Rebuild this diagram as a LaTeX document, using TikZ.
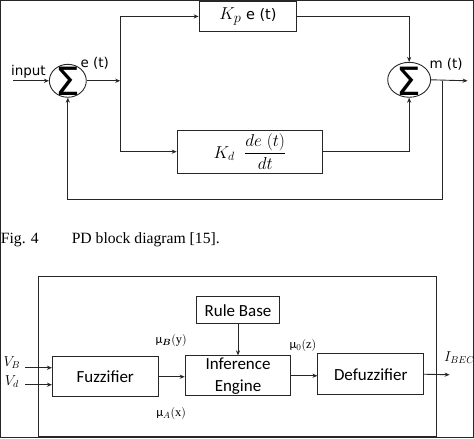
\documentclass[tikz,border=0pt]{standalone}
\usepackage{fontspec}
\usepackage{amsmath}
\setmainfont{Liberation Serif}
\newfontfamily\carl{Carlito}
\newfontfamily\dvs{DejaVu Sans}
\usetikzlibrary{arrows.meta,shapes.geometric}
\begin{document}
\begin{tikzpicture}[x=1pt,y=-1pt,line width=0.9pt,
  every path/.style={draw=black!85},
  arr/.style={-{Stealth[length=5pt,width=4.2pt]}},
  blk/.style={draw=black!85,rectangle,inner sep=0pt},
  sumc/.style={draw=black!85,ellipse,inner sep=0pt},
  sig/.style={inner sep=0pt,font=\dvs\fontsize{39}{40}\selectfont},
  lab/.style={inner sep=0pt,font=\dvs\fontsize{13.5}{15}\selectfont},
  bt/.style={font=\carl\fontsize{17}{19}\selectfont,align=center},
  mu/.style={inner sep=0pt,font=\carl\fontsize{12.5}{14}\selectfont},
  mth/.style={inner sep=0pt,font=\fontsize{14.5}{16}\selectfont},
  captxt/.style={inner sep=0pt,anchor=base west,font=\fontsize{15.7}{18}\selectfont}]
\useasboundingbox (0,0) rectangle (474,438);
% ---------- top PD diagram ----------
\node[sumc,minimum width=37pt,minimum height=33pt] (s1) at (67.5,80.5) {};
\node[sig] (s1t) at (67,81) {Σ};
\node[sumc,minimum width=43pt,minimum height=35pt] (s2) at (409.5,79.5) {};
\node[sig] (s2t) at (409,81) {Σ};
\node[blk,minimum width=98pt,minimum height=30pt] (kp) at (248,16)
  {\fontsize{19}{20}\selectfont$K_p$\ {\dvs\fontsize{14.5}{15}\selectfont e (t)}};
\node[blk,minimum width=146pt,minimum height=43pt] (kd) at (250,151.5)
  {\fontsize{17.5}{18}\selectfont$K_d\;\;\dfrac{de\;(t)}{dt}$};
\node[lab] (inp) at (28,71) {input};
\node[lab] (et) at (94.5,63) {e (t)};
\node[lab] (mt) at (446.5,64) {m (t)};
\coordinate (in0) at (13,80.5);
\coordinate (j) at (120,80.5);
\coordinate (f) at (443,80.5);
\coordinate (out) at (468,80.5);
\coordinate (fbr) at (443,199);
\draw[arr] (in0) -- (s1.west);
\draw[arr] (s1.east) -- (j);
\draw[arr] (j) |- (kp.west);
\draw[arr] (j) |- (kd.west);
\draw[arr] (kp.east) -| (s2.north);
\draw[arr] (kd.east) -| (s2.south);
\draw[arr] (s2.east) -- (out);
\draw[arr] (f) -- (fbr) -| (s1.south);
% caption
\node[captxt] (fig) at (0,243.5) {Fig. 4};
\node[captxt] (figt) at (71,243.5) {PD block diagram [15].};
% ---------- bottom fuzzy diagram ----------
\node[blk,minimum width=399pt,minimum height=160pt,line width=1.1pt] (frame) at (237.5,357) {};
\node[blk,bt,minimum width=84pt,minimum height=27pt] (rb) at (238,310.5) {Rule Base};
\node[blk,bt,minimum width=106pt,minimum height=40pt] (fz) at (105,377) {Fuzzifier};
\node[blk,bt,minimum width=106pt,minimum height=40pt] (ie) at (238,376)
  {\fontsize{17}{19}\selectfont Inference\\[3pt]Engine};
\node[blk,bt,minimum width=106pt,minimum height=41pt] (df) at (371,374.5) {Defuzzifier};
\coordinate (vb) at (25,368);
\coordinate (vd) at (25,385);
\coordinate (ib) at (450,375);
\draw[arr] (vb) -- (vb -| fz.west);
\draw[arr] (vd) -- (vd -| fz.west);
\draw[arr] (rb.south) -- (ie.north);
\draw[arr] (fz.east) -- (fz.east -| ie.west);
\draw[arr] (ie.east) -- (ie.east -| df.west);
\draw[arr] (df.east) -- (ib);
\node[mth] (vbl) at (11.5,363) {$V_B$};
\node[mth] (vdl) at (11.5,382) {$V_d$};
\node[mth,anchor=west] (ibl) at (444,357.5) {$I_{BEC}$};
\node[mu] (mub) at (171,341) {μ$_{\boldsymbol{B}}\mathrm{(y)}$};
\node[mu] (mua) at (171,414) {μ$_{A}\mathrm{(x)}$};
\node[mu] (muo) at (303,345.5) {μ$_{0}\mathrm{(z)}$};
\end{tikzpicture}
\end{document}
